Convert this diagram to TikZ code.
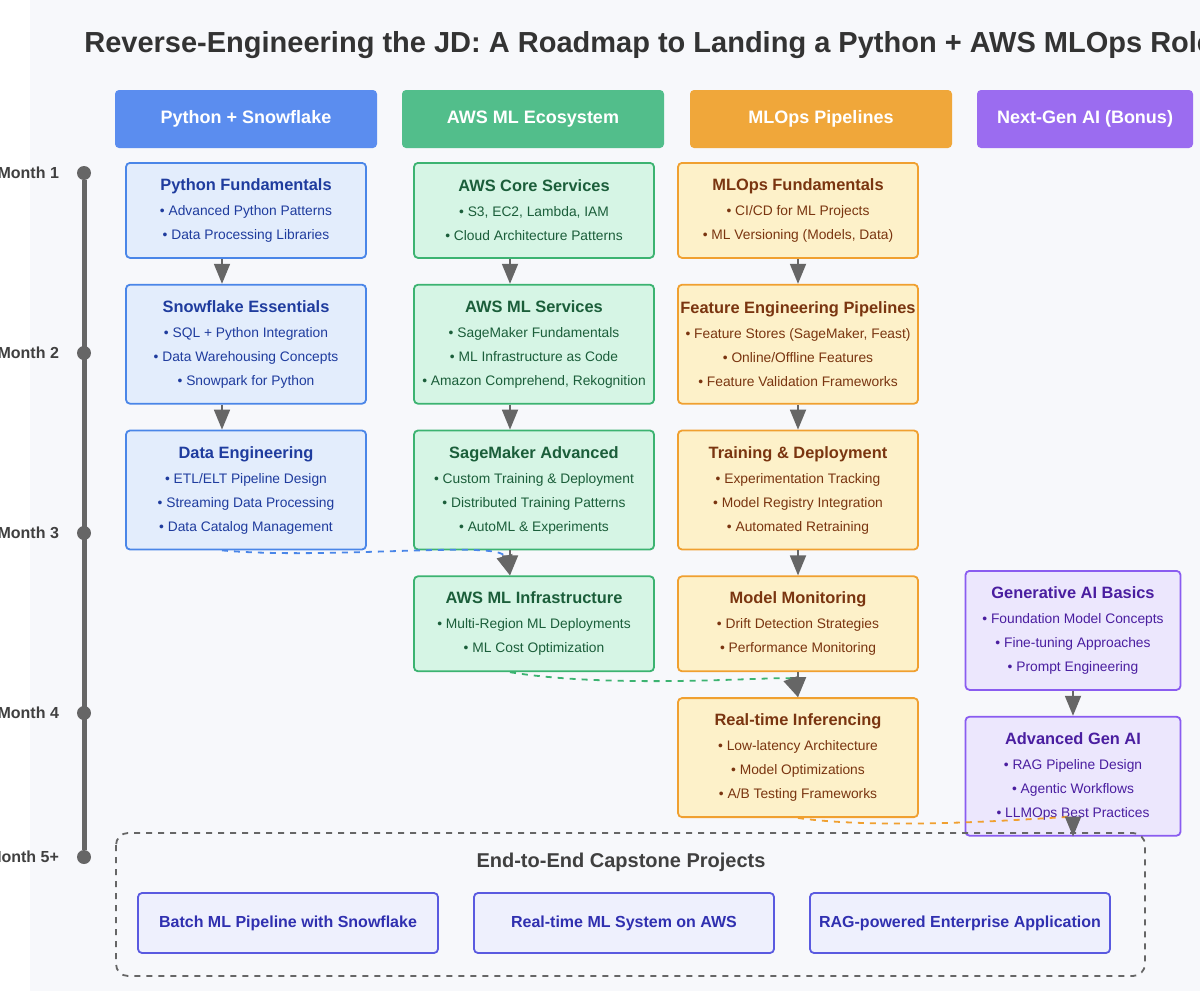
\documentclass[tikz,border=0pt]{standalone}
\usepackage{fontspec}
\setmainfont{Liberation Sans}
\usetikzlibrary{positioning,arrows.meta}
\definecolor{pagebg}{HTML}{F7F8FB}
\definecolor{hblue}{HTML}{5B8DEF}
\definecolor{hgreen}{HTML}{52BE8B}
\definecolor{horange}{HTML}{F0A73A}
\definecolor{hpurple}{HTML}{9B6CF0}
\definecolor{bfill}{HTML}{E3EDFC}\definecolor{bline}{HTML}{4A86E8}\definecolor{btext}{HTML}{1F3C9E}
\definecolor{gfill}{HTML}{D6F5E5}\definecolor{gline}{HTML}{3CB371}\definecolor{gtext}{HTML}{1B5E3A}
\definecolor{ofill}{HTML}{FDF1C9}\definecolor{oline}{HTML}{F0A030}\definecolor{otext}{HTML}{7A3510}
\definecolor{pfill}{HTML}{ECE7FD}\definecolor{pline}{HTML}{8A5CF0}\definecolor{ptext}{HTML}{4A1EA0}
\definecolor{cfill}{HTML}{EEF0FD}\definecolor{cline}{HTML}{5A5AE0}\definecolor{ctext}{HTML}{3030B0}
\definecolor{tline}{HTML}{666666}
\newcommand{\bx}[2]{{\fontsize{8.2}{12}\selectfont\bfseries #1}\\[0.5pt]#2}

\begin{document}
\begin{tikzpicture}[
			x=0.5pt, y=-0.5pt,
			node distance={12.5pt},
			head/.style = {rounded corners=2pt, minimum width=131pt, minimum height=29pt, text=white, font=\fontsize{9}{11}\selectfont\bfseries},
			box/.style = {draw, line width=0.9pt, rounded corners=2pt, minimum width=120pt, align=center, inner sep=0pt, font=\fontsize{6.9}{12}\selectfont},
			two/.style = {box, minimum height=47.5pt},
			three/.style = {box, minimum height=59.5pt},
			pybox/.style = {fill=bfill, draw=bline, text=btext},
			awsbox/.style = {fill=gfill, draw=gline, text=gtext},
			opsbox/.style = {fill=ofill, draw=oline, text=otext},
			genbox/.style = {fill=pfill, draw=pline, text=ptext, minimum width=107.5pt},
			project/.style = {draw=cline, fill=cfill, text=ctext, line width=0.9pt, rounded corners=2pt, minimum width=150pt, minimum height=30pt, font=\fontsize{8}{10}\selectfont\bfseries},
			next/.style = {tline, line width=0.9pt, -{Triangle[length=10pt, width=8pt]}},
			link/.style = {dashed, line width=0.9pt, -{Triangle[length=10pt, width=8pt, color=tline]}},
			dot/.style = {circle, fill=tline, inner sep=0pt, minimum size=7pt},
			month/.style = {anchor=east, text=black!75, font=\fontsize{8}{10}\selectfont\bfseries}
		]
		\fill[white] (0,0) rectangle (1200,991);
		\fill[pagebg] (30,0) rectangle (1200,991);
		\useasboundingbox (0,0) rectangle (1200,991);
		\node[text=black!80, font=\fontsize{14.5}{16}\selectfont\bfseries, anchor=west, inner sep=0pt] (title) at (84,45) {Reverse-Engineering the JD: A Roadmap to Landing a Python + AWS MLOps Role};
		% column headers
		\node[head, fill=hblue] (h1) at (246,119) {Python + Snowflake};
		\node[head, fill=hgreen] (h2) at (533,119) {AWS ML Ecosystem};
		\node[head, fill=horange] (h3) at (821,119) {MLOps Pipelines};
		\node[head, fill=hpurple, minimum width=108pt] (h4) at (1085,119) {Next-Gen AI (Bonus)};
		% timeline
		\node[dot] (t1) at (84,173) {};
		\node[dot] (t2) at (84,353) {};
		\node[dot] (t3) at (84,533) {};
		\node[dot] (t4) at (84,713) {};
		\node[dot] (t5) at (84,857) {};
		\draw[tline, line width=2.5pt] (t1) -- (t5);
		\node[month] at (66,173) {Month 1};
		\node[month] at (66,353) {Month 2};
		\node[month] at (66,533) {Month 3};
		\node[month] at (66,713) {Month 4};
		\node[month] at (66,857) {Month 5+};
		% Python + Snowflake
		\node[two, pybox, anchor=north] (p1) at (246,162) {\bx{Python Fundamentals}{• Advanced Python Patterns\\• Data Processing Libraries}};
		\node[three, pybox] (p2) [below=of p1] {\bx{Snowflake Essentials}{• SQL + Python Integration\\• Data Warehousing Concepts\\• Snowpark for Python}};
		\node[three, pybox] (p3) [below=of p2] {\bx{Data Engineering}{• ETL/ELT Pipeline Design\\• Streaming Data Processing\\• Data Catalog Management}};
		% AWS ML Ecosystem
		\node[two, awsbox, anchor=north] (a1) at (534,162) {\bx{AWS Core Services}{• S3, EC2, Lambda, IAM\\• Cloud Architecture Patterns}};
		\node[three, awsbox] (a2) [below=of a1] {\bx{AWS ML Services}{• SageMaker Fundamentals\\• ML Infrastructure as Code\\• Amazon Comprehend, Rekognition}};
		\node[three, awsbox] (a3) [below=of a2] {\bx{SageMaker Advanced}{• Custom Training \& Deployment\\• Distributed Training Patterns\\• AutoML \& Experiments}};
		\node[two, awsbox] (a4) [below=of a3] {\bx{AWS ML Infrastructure}{• Multi-Region ML Deployments\\• ML Cost Optimization}};
		% MLOps Pipelines
		\node[two, opsbox, anchor=north] (m1) at (798,162) {\bx{MLOps Fundamentals}{• CI/CD for ML Projects\\• ML Versioning (Models, Data)}};
		\node[three, opsbox] (m2) [below=of m1] {\bx{Feature Engineering Pipelines}{• Feature Stores (SageMaker, Feast)\\• Online/Offline Features\\• Feature Validation Frameworks}};
		\node[three, opsbox] (m3) [below=of m2] {\bx{Training \& Deployment}{• Experimentation Tracking\\• Model Registry Integration\\• Automated Retraining}};
		\node[two, opsbox] (m4) [below=of m3] {\bx{Model Monitoring}{• Drift Detection Strategies\\• Performance Monitoring}};
		\node[three, opsbox] (m5) [below=of m4] {\bx{Real-time Inferencing}{• Low-latency Architecture\\• Model Optimizations\\• A/B Testing Frameworks}};
		% Next-Gen AI
		\node[three, genbox, anchor=north] (g1) at (1073,570) {\bx{Generative AI Basics}{• Foundation Model Concepts\\• Fine-tuning Approaches\\• Prompt Engineering}};
		\node[three, genbox] (g2) [below=of g1] {\bx{Advanced Gen AI}{• RAG Pipeline Design\\• Agentic Workflows\\• LLMOps Best Practices}};
		% capstone
		\draw[tline, dashed, line width=0.9pt, rounded corners=6pt] (116,833) rectangle (1145,976);
		\node[text=black!75, font=\fontsize{10}{12}\selectfont\bfseries] (c) at (621,862) {End-to-End Capstone Projects};
		\node[project] (c1) at (288,923) {Batch ML Pipeline with Snowflake};
		\node[project] (c2) at (624,923) {Real-time ML System on AWS};
		\node[project] (c3) at (960,923) {RAG-powered Enterprise Application};
		% progression
		\foreach \u/\v/\s in {p1/p2/-12pt, p2/p3/-12pt, a1/a2/-12pt, a2/a3/-12pt, a3/a4/-12pt, m1/m2/0pt, m2/m3/0pt, m3/m4/0pt, m4/m5/0pt, g1/g2/0pt}
			\draw[next] ([xshift=\s]\u.south) -- ([xshift=\s]\v.north);
		\draw[link, bline] ([xshift=-12pt]p3.south) .. controls (330,560) and (500,540) .. ([xshift=-12pt]a4.north);
		\draw[link, gline] ([xshift=-12pt]a4.south) .. controls (620,690) and (790,675) .. (m5.north);
		\draw[link, oline] (m5.south) .. controls (900,832) and (1073,815) .. (g2.south);
	\end{tikzpicture}
\end{document}
